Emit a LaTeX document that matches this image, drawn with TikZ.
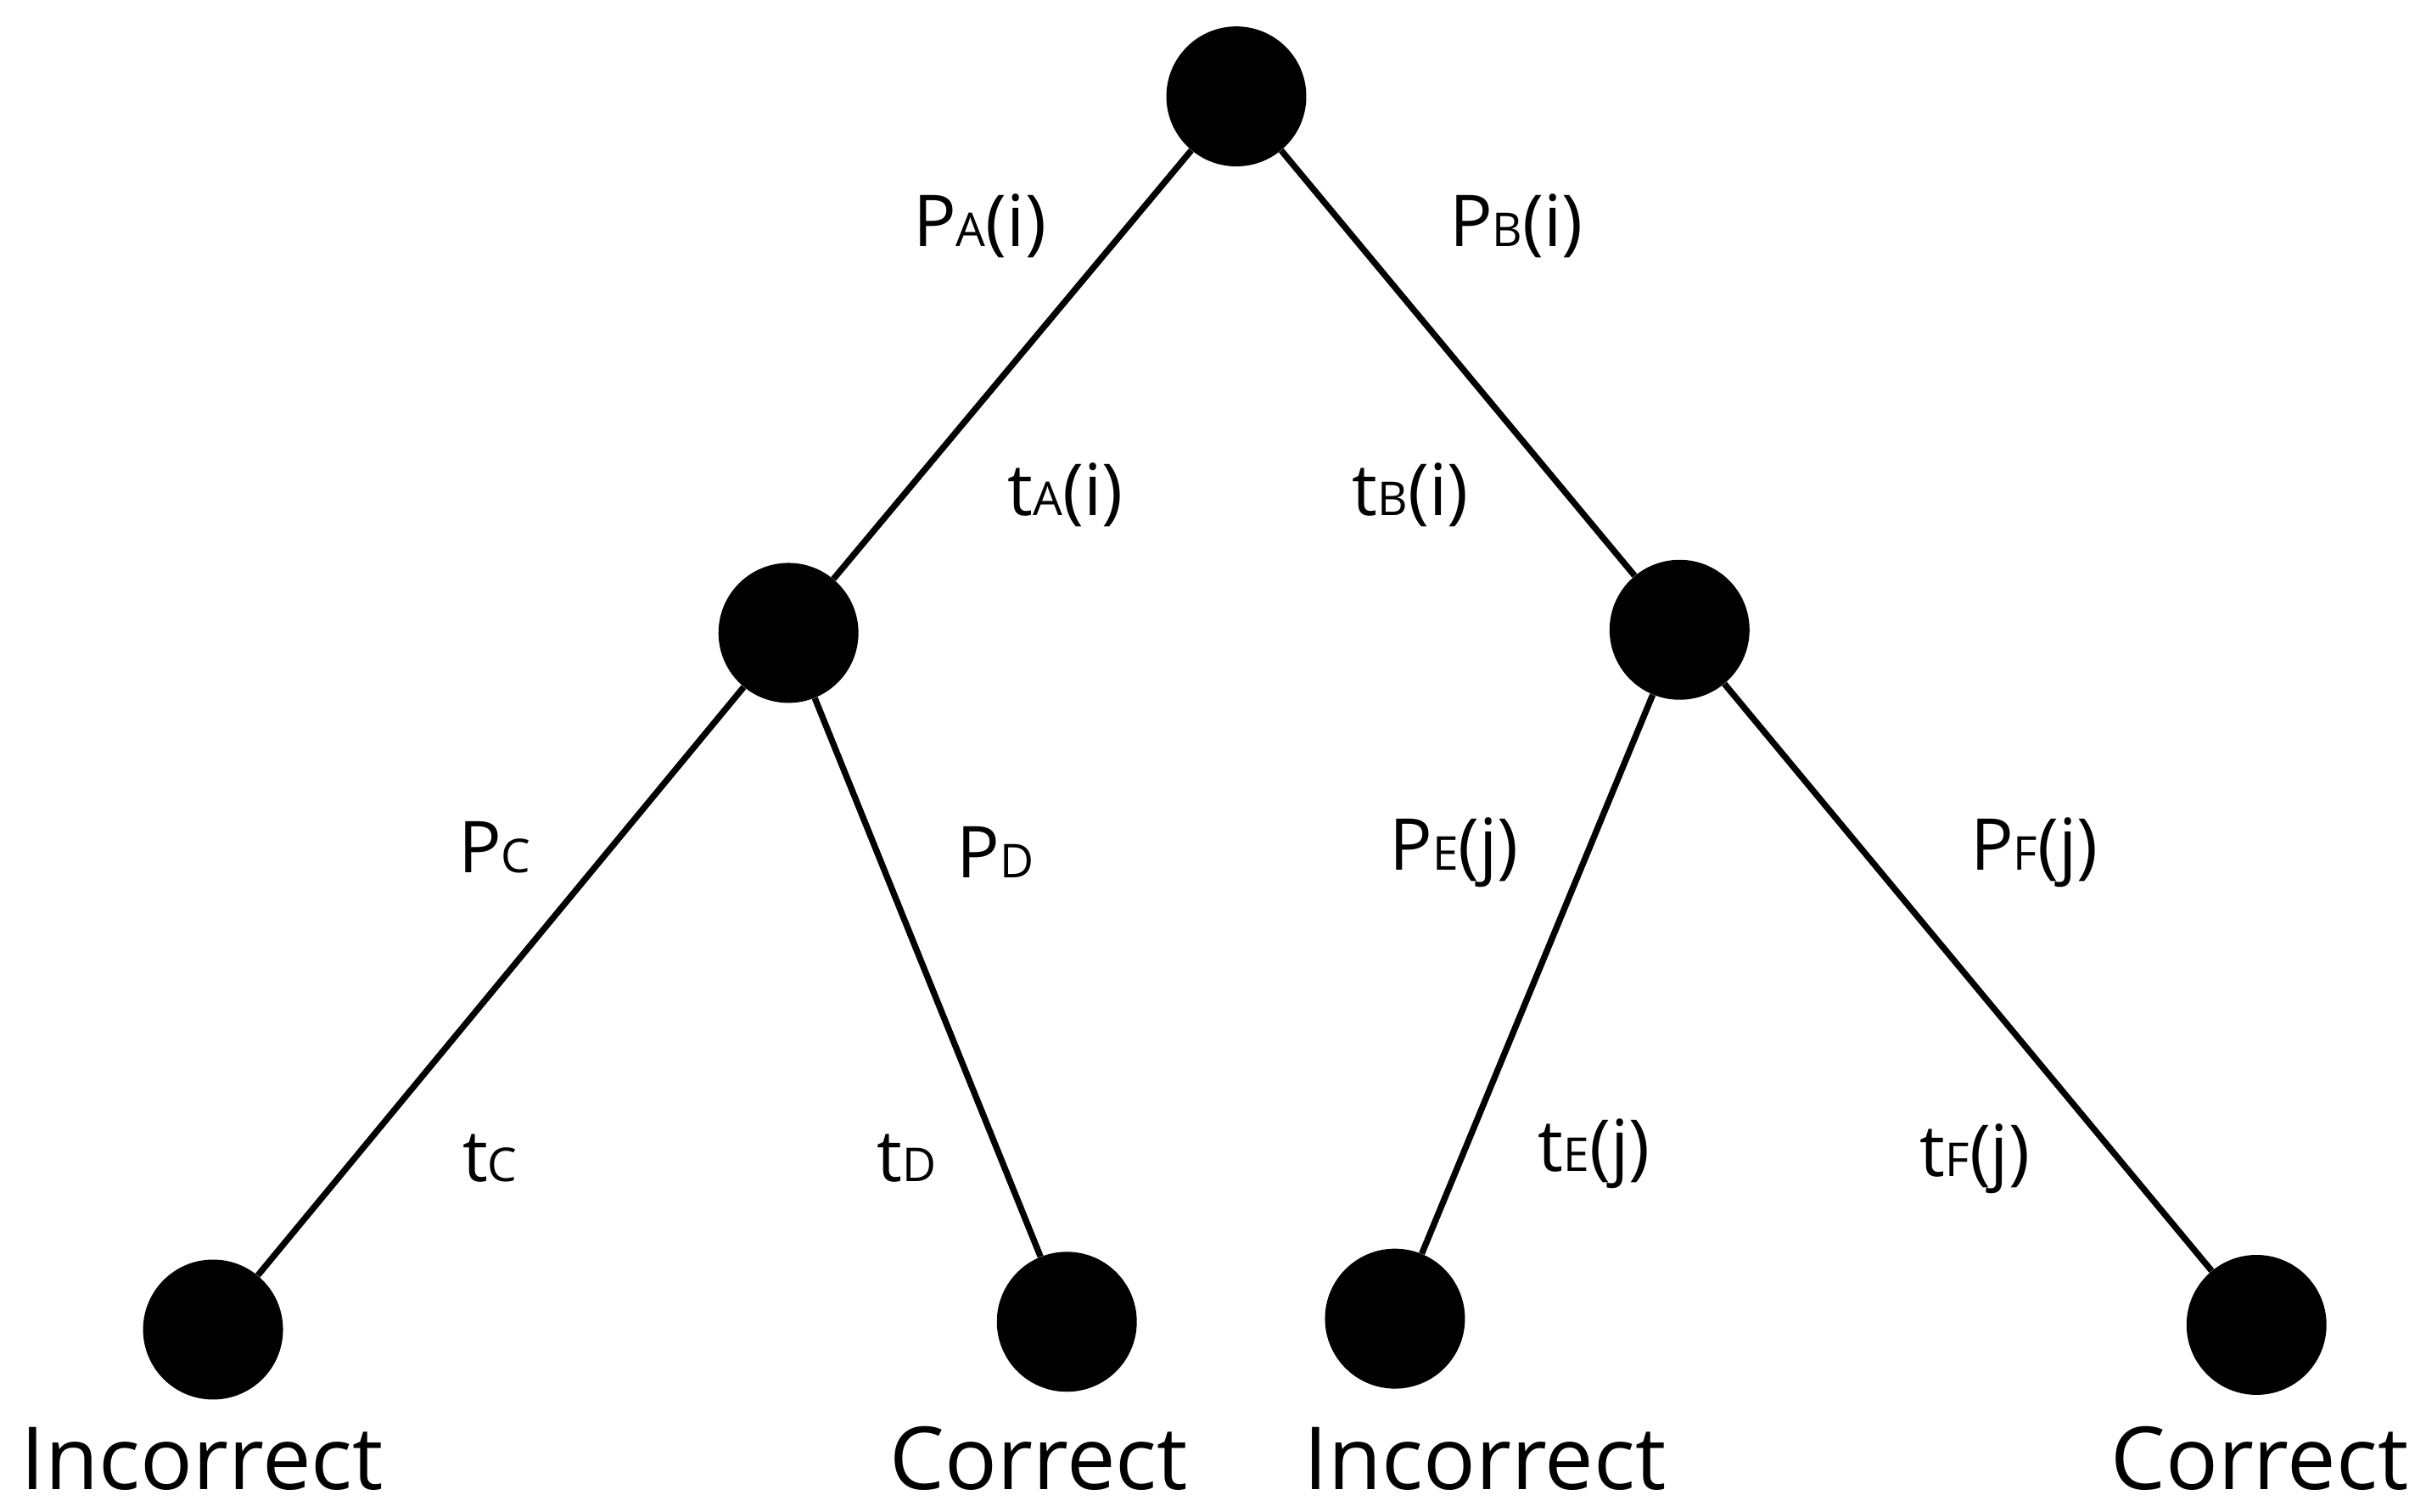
\documentclass[tikz,border=0pt]{standalone}
\usepackage{fontspec}
\setmainfont{Open Sans}
\newcommand\sbx[1]{{\fontsize{30}{30}\selectfont #1}}
\begin{document}
\begin{tikzpicture}[x=1pt,y=-1pt,
  dot/.style={circle,fill=black,minimum size=90pt,inner sep=0pt},
  edge/.style={line width=4pt},
  lbl/.style={font=\fontsize{46}{50}\selectfont,inner sep=0pt},
  leaf/.style={font=\fontsize{56}{60}\selectfont,inner sep=0pt}]
\useasboundingbox (0,0) rectangle (1560,972);
\node[dot] (r) at (795,62) {};
\node[dot] (a) at (507,407) {};
\node[dot] (b) at (1080,405) {};
\node[dot] (c) at (137,855) {};
\node[dot] (d) at (686,850) {};
\node[dot] (e) at (897,848) {};
\node[dot] (f) at (1451,852) {};
\draw[edge] (r) -- (a); \draw[edge] (r) -- (b);
\draw[edge] (a) -- (c); \draw[edge] (a) -- (d);
\draw[edge] (b) -- (e); \draw[edge] (b) -- (f);
\node[lbl] (l1) at (630,145) {P\sbx{A}(i)};
\node[lbl] (l2) at (975,145) {P\sbx{B}(i)};
\node[lbl] (l3) at (685,318) {t\sbx{A}(i)};
\node[lbl] (l4) at (907,318) {t\sbx{B}(i)};
\node[lbl] (l5) at (318,545) {P\sbx{C}};
\node[lbl] (l6) at (640,548) {P\sbx{D}};
\node[lbl] (l7) at (935,548) {P\sbx{E}(j)};
\node[lbl] (l8) at (1308,548) {P\sbx{F}(j)};
\node[lbl] (l9) at (315,745) {t\sbx{C}};
\node[lbl] (l10) at (583,745) {t\sbx{D}};
\node[lbl] (l11) at (1025,742) {t\sbx{E}(j)};
\node[lbl] (l12) at (1270,745) {t\sbx{F}(j)};
\node[leaf] (n1) at (130,938) {Incorrect};
\node[leaf] (n2) at (668,938) {Correct};
\node[leaf] (n3) at (955,938) {Incorrect};
\node[leaf] (n4) at (1453,938) {Correct};
\end{tikzpicture}
\end{document}
